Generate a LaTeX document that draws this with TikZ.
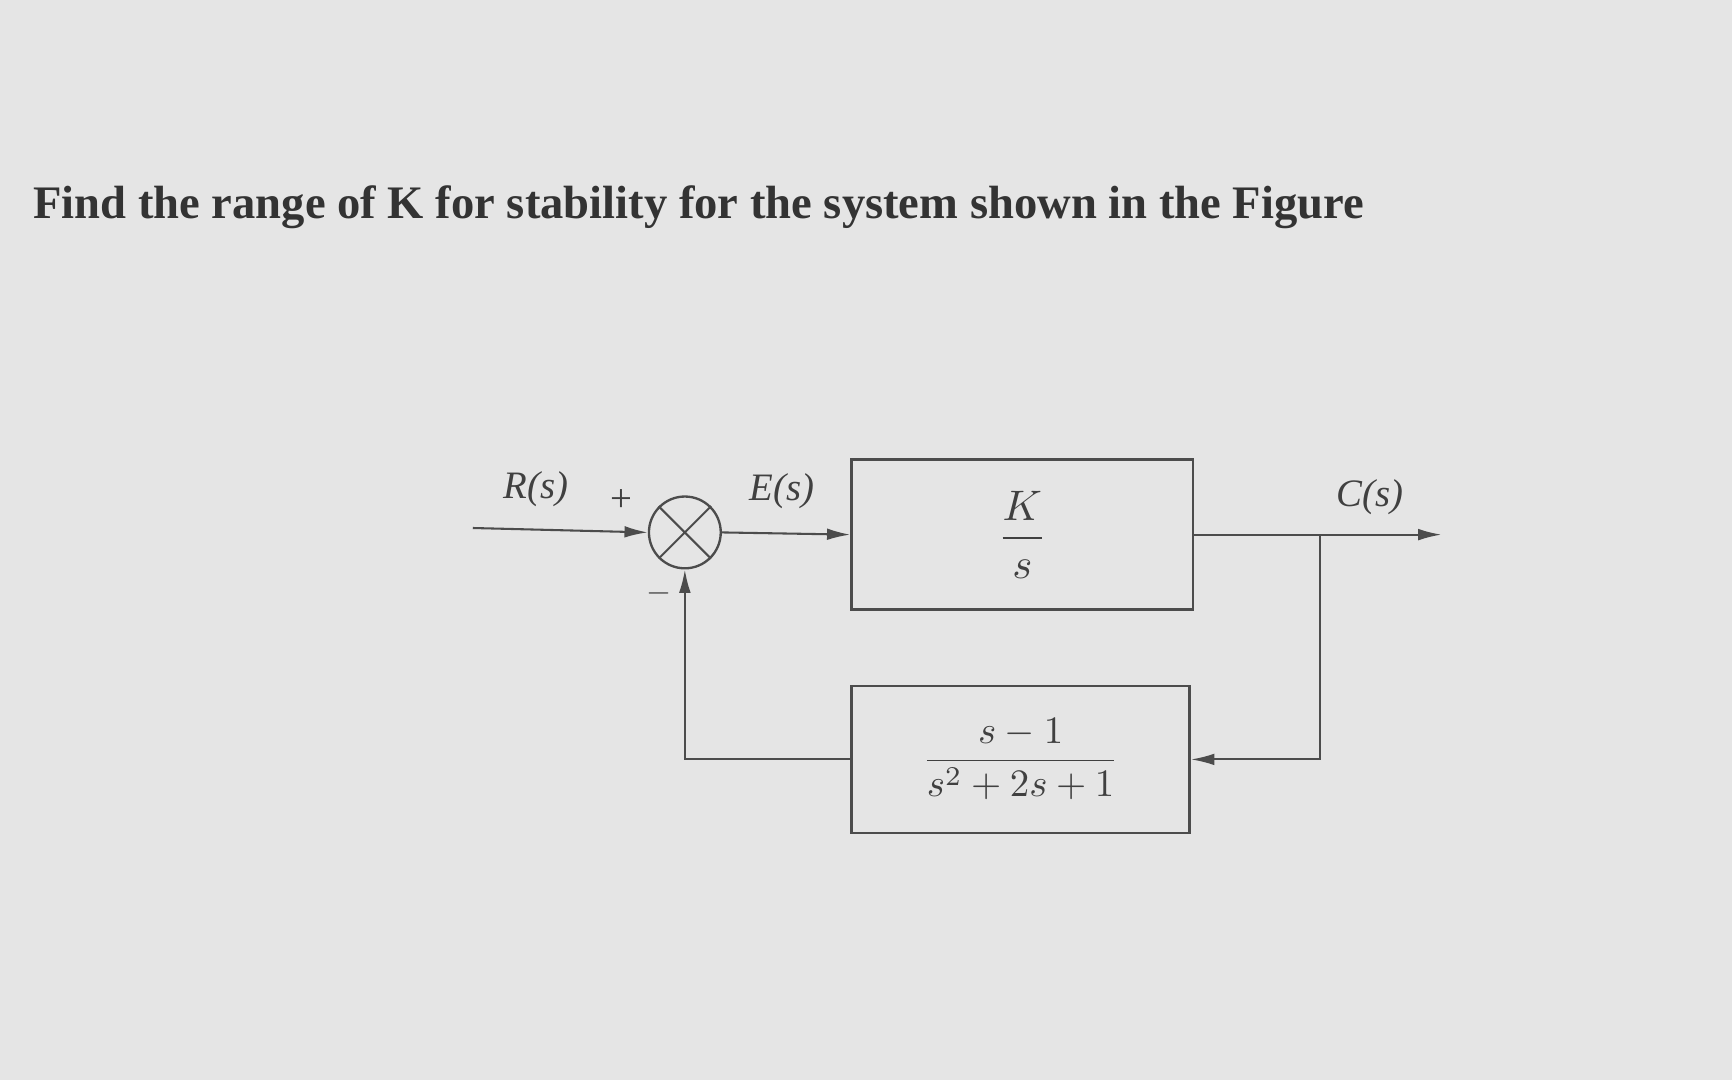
\documentclass[tikz,border=0pt]{standalone}
\usepackage{amsmath}
\usepackage{graphicx}
\usepackage{fontspec}
\setmainfont{Liberation Serif}
\usetikzlibrary{arrows.meta}
\begin{document}
\begin{tikzpicture}[x=0.03cm,y=-0.03cm,
  ln/.style={draw=black!70,line width=1.6pt},
  arr/.style={ln,-{Latex[length=18pt,width=9pt]}},
  blk/.style={draw=black!70,line width=2pt,minimum width=9.27cm,inner sep=0pt},
  lab/.style={font=\fontsize{30}{32}\selectfont\itshape,text=black!75}]
\fill[gray!20] (0,0) rectangle (1568,978);
\useasboundingbox (0,0) rectangle (1568,978);
\node[anchor=west,text=black!80,font=\fontsize{36}{40}\selectfont\bfseries] (title) at (26,188) {Find the range of K for stability for the system shown in the Figure};
\node[draw=black!70,line width=1.8pt,circle,minimum size=1.95cm,inner sep=0pt] (sum) at (620,482) {};
\draw[ln] (sum.45) -- (sum.225) (sum.135) -- (sum.315);
\coordinate (in) at (428,478);
\draw[arr] (in) -- (sum.west);
\node[lab] (R) at (485,443) {R(s)};
\node[lab,font=\fontsize{30}{30}\selectfont] (plus) at (563,453) {+};
\node[lab,font=\fontsize{30}{30}\selectfont] (minus) at (597,537) {$-$};
\node[blk,minimum height=4.08cm] (G) at (925.5,484) {\textcolor{black!75}{\scalebox{3.3}{$\dfrac{K}{s}$}}};
\draw[arr] (sum.east) -- (G.west);
\node[lab] (E) at (708,445) {E(s)};
\coordinate (out) at (1305,484);
\draw[arr] (G.east) -- (out);
\node[lab] (C) at (1240,450) {C(s)};
\node[blk,minimum height=3.99cm,minimum width=9.18cm] (H) at (924,687.5) {\textcolor{black!75}{\scalebox{3.0}{$\dfrac{s-1}{s^2+2s+1}$}}};
\coordinate (br) at (1195,484);
\draw[arr] (br) |- (H.east);
\draw[arr] (H.west) -| (sum.south);
\end{tikzpicture}
\end{document}
